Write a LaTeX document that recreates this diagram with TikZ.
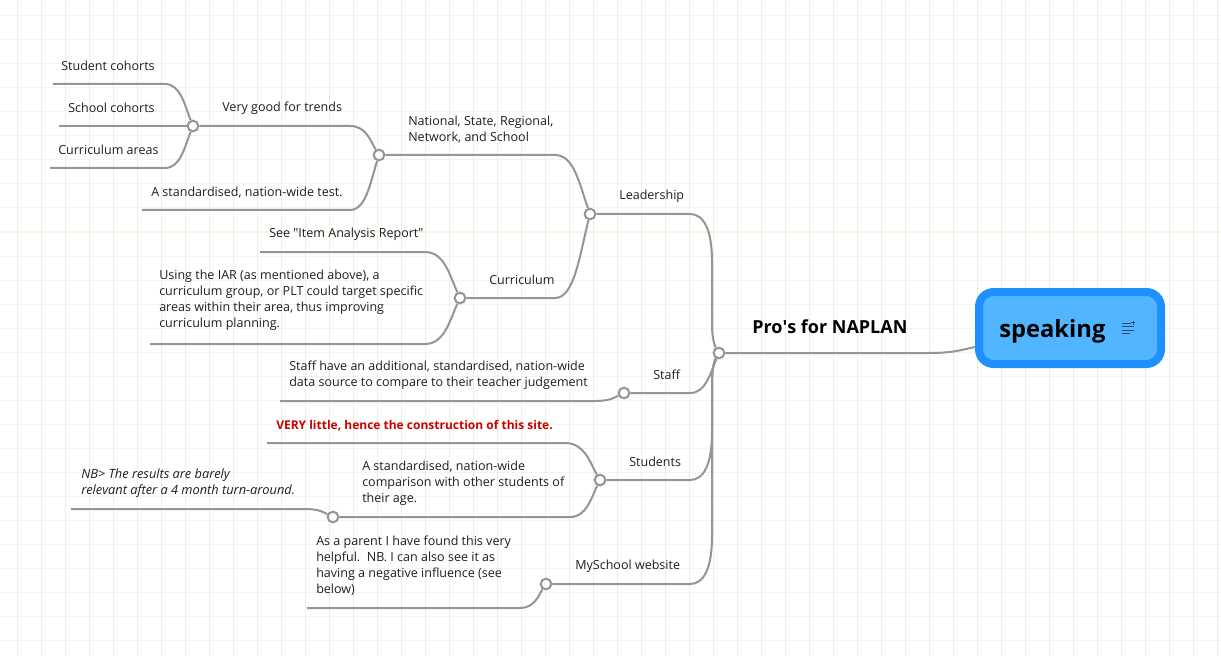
\documentclass[tikz,border=0pt]{standalone}
\usepackage{xcolor}
\usepackage{fontspec}
\setmainfont{Open Sans}
\usetikzlibrary{calc}
\usetikzlibrary{backgrounds}
\definecolor{gridgreen}{HTML}{ECF0E0}
\definecolor{gridpale}{HTML}{F1F6E6}
\definecolor{linkgray}{HTML}{959595}
\definecolor{rootblue}{HTML}{1E90FF}
\definecolor{rootfill}{HTML}{52B5FF}
\definecolor{iconblue}{HTML}{2A4B6E}
\definecolor{littlered}{HTML}{CC0000}
\tikzset{
	gridline/.style={draw=gridgreen, line width=0.75pt},
	link/.style={draw=linkgray, line width=1.5pt},
	joint/.style={circle, draw=linkgray, fill=white, line width=1.5pt, minimum size=8pt, inner sep=0pt},
	lbl/.style={anchor=west, inner sep=0pt, align=left, font=\fontsize{9.4}{12}\selectfont, text=black!88},
}
% child, parent, length of the bend
\newcommand{\branch}[3]{%
	\draw[link] (#1) -- ($(#1 -| #2)+({-#3},0)$)
		.. controls ($(#1 -| #2)+({-.45*#3},0)$) and ($($(#2)!.5!(#1 -| #2)$)+({-.3*#3},0)$) .. (#2);
}
% child, parent, side of the trunk (1 above the parent, -1 below)
\newcommand{\trunk}[3]{%
	\draw[link] (#1) -- ($(#1 -| #2)+(-29,0)$)
		.. controls ($(#1 -| #2)+(-15,0)$) and ($(#1 -| #2)+(-7,{#3*16})$) .. ($(#1 -| #2)+(-7,{#3*48})$)
		-- ($(#2)+(-7,{-#3*28})$) .. controls ($(#2)+(-7,{-#3*14})$) and ($(#2)+(-4,{-#3*7})$) .. (#2);
}
\begin{document}
\begin{tikzpicture}[x=0.75pt, y=-0.75pt]
	\useasboundingbox (0,0) rectangle (1221,656);
	% root
	\node[draw=rootblue, fill=rootfill, line width=6pt, rounded corners=11pt, minimum width=136.5pt, minimum height=54pt, inner sep=0pt] (root) at (1070,328) {};
	\node[lbl, font=\fontsize{17.8}{22}\selectfont\bfseries, text=black] (speaking) at (999,331) {speaking};
	\draw[iconblue, line width=0.7pt] (1122,323) -- (1131,323) (1122,326.5) -- (1134,326.5) (1122,330) -- (1134,330) (1122,333.5) -- (1130,333.5);
	\draw[iconblue, line width=0.7pt] (1133,320.5) -- (1133,325) (1130.8,322.8) -- (1135.2,322.8);
	% joints
	\node[joint] (jpros) at (719,353) {};
	\node[joint] (jlead) at (590,214) {};
	\node[joint] (jstaff) at (624,393) {};
	\node[joint] (jstud) at (600,480) {};
	\node[joint] (jmysch) at (546,584) {};
	\node[joint] (jnat) at (379,155) {};
	\node[joint] (jcurr) at (460,298) {};
	\node[joint] (jgood) at (193,126) {};
	\node[joint] (jcomp) at (333,517) {};
	% free ends
	\coordinate (rootin) at (975,347);
	\coordinate (estud) at (53,84);
	\coordinate (eschool) at (59,126);
	\coordinate (eareas) at (50,168);
	\coordinate (etest) at (142,210);
	\coordinate (eitem) at (260,252);
	\coordinate (eiar) at (150,344);
	\coordinate (edata) at (280,401);
	\coordinate (every) at (267,443);
	\coordinate (enb) at (71,509);
	\coordinate (eparent) at (307,608);
	\begin{scope}[on background layer]
		\fill[white] (0,0) rectangle (1221,656);
		\foreach \y in {0,...,26}{
			\draw[gridline, draw=gridpale] (0,{16+24*\y}) -- (1221,{16+24*\y});
		}
		\foreach \x in {0,...,50}{
			\draw[gridline] ({17.3+24*\x},0) -- ({17.3+24*\x},656);
		}
		\branch{jpros}{rootin}{47}
		\trunk{jlead}{jpros}{1}
		\branch{jstaff}{jpros}{29}
		\trunk{jstud}{jpros}{-1}
		\trunk{jmysch}{jpros}{-1}
		\branch{jnat}{jlead}{35}
		\branch{jcurr}{jlead}{35}
		\branch{jgood}{jnat}{29}
		\branch{etest}{jnat}{29}
		\branch{estud}{jgood}{28}
		\draw[link] (eschool) -- (jgood);
		\branch{eareas}{jgood}{28}
		\branch{eitem}{jcurr}{35}
		\branch{eiar}{jcurr}{35}
		\branch{edata}{jstaff}{29}
		\branch{every}{jstud}{35}
		\branch{jcomp}{jstud}{30}
		\branch{enb}{jcomp}{28}
		\branch{eparent}{jmysch}{26}
	\end{scope}
	% labels
	\node[lbl, font=\fontsize{13.5}{16}\selectfont\bfseries, text=black] (lpros) at (752,326.5) {Pro\textquotesingle s for NAPLAN};
	\node[lbl] (llead) at (619,196) {Leadership};
	\node[lbl] (lstaff) at (653,375) {Staff};
	\node[lbl] (lstud) at (629,462) {Students};
	\node[lbl] (lmysch) at (575,566) {MySchool website};
	\node[lbl] (lnat) at (408,129.5) {National, State, Regional,\\Network, and School};
	\node[lbl] (lcurr) at (489,280) {Curriculum};
	\node[lbl] (lgood) at (222,108.5) {Very good for trends};
	\node[lbl] (ltest) at (151,192.5) {A standardised, nation-wide test.};
	\node[lbl] (lcohort) at (61,66) {Student cohorts};
	\node[lbl] (lschool) at (68,108) {School cohorts};
	\node[lbl] (lareas) at (58,150) {Curriculum areas};
	\node[lbl] (litem) at (269,234.5) {See \textquotedbl Item Analysis Report\textquotedbl};
	\node[lbl] (liar) at (159,300.5) {Using the IAR (as mentioned above), a\\curriculum group, or PLT could target specific\\areas within their area, thus improving\\curriculum planning.};
	\node[lbl] (ldata) at (289,375.5) {Staff have an additional, standardised, nation-wide\\data source to compare to their teacher judgement};
	\node[lbl, text=littlered, font=\fontsize{9}{12}\selectfont\bfseries] (lvery) at (276,425.5) {VERY little, hence the construction of this site.};
	\node[lbl] (lcomp) at (362,483.5) {A standardised, nation-wide\\comparison with other students of\\their age.};
	\node[lbl, font=\fontsize{9.6}{12}\selectfont\itshape] (lnb) at (81,483.5) {NB> The results are barely\\relevant after a 4 month turn-around.};
	\node[lbl] (lparent) at (316,565.5) {As a parent I have found this very\\helpful.\ \ NB. I can also see it as\\having a negative influence (see\\below)};
\end{tikzpicture}
\end{document}
